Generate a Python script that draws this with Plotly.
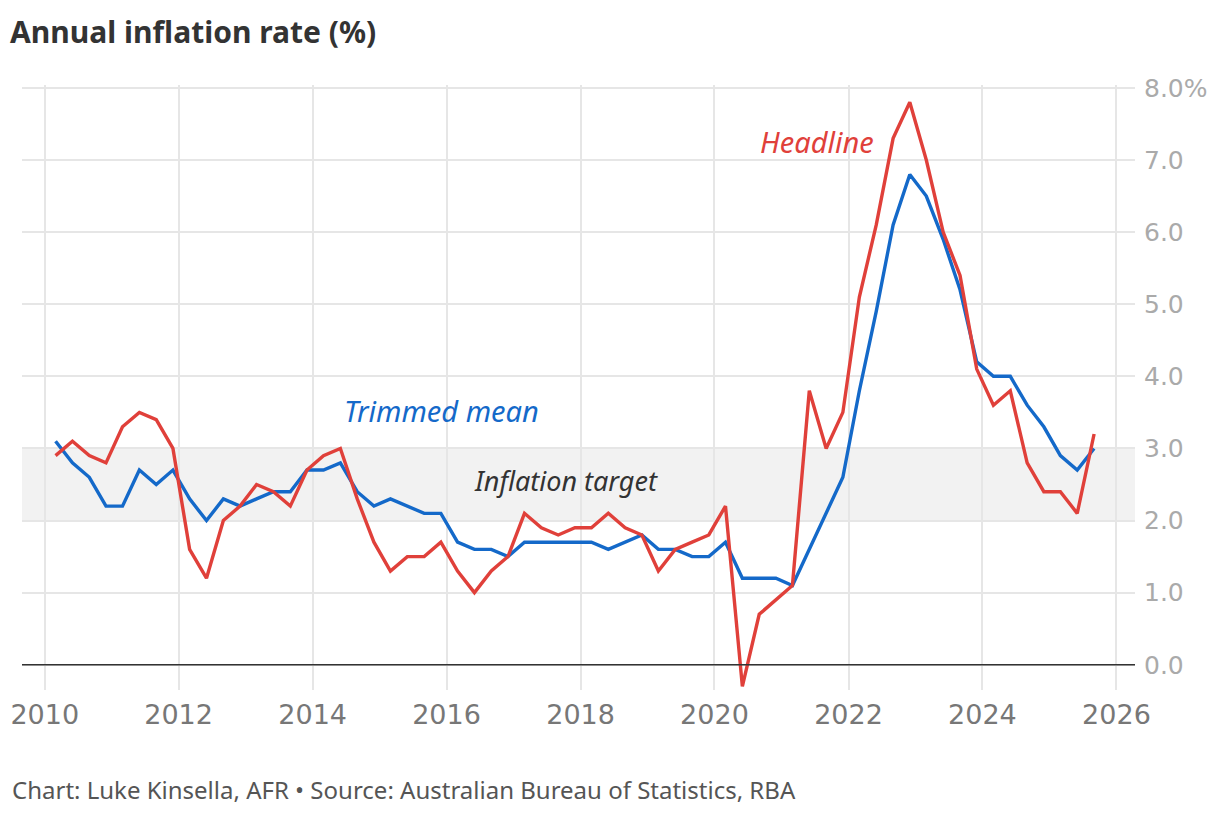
import plotly.graph_objects as go
import pandas as pd

# Quarterly observations, March 2010 to September 2025
quarters = pd.date_range("2010-03-01", "2025-09-01", freq="3MS")

headline = [
    2.9, 3.1, 2.9, 2.8,
    3.3, 3.5, 3.4, 3.0,
    1.6, 1.2, 2.0, 2.2,
    2.5, 2.4, 2.2, 2.7,
    2.9, 3.0, 2.3, 1.7,
    1.3, 1.5, 1.5, 1.7,
    1.3, 1.0, 1.3, 1.5,
    2.1, 1.9, 1.8, 1.9,
    1.9, 2.1, 1.9, 1.8,
    1.3, 1.6, 1.7, 1.8,
    2.2, -0.3, 0.7, 0.9,
    1.1, 3.8, 3.0, 3.5,
    5.1, 6.1, 7.3, 7.8,
    7.0, 6.0, 5.4, 4.1,
    3.6, 3.8, 2.8, 2.4,
    2.4, 2.1, 3.2,
]

trimmed_mean = [
    3.1, 2.8, 2.6, 2.2,
    2.2, 2.7, 2.5, 2.7,
    2.3, 2.0, 2.3, 2.2,
    2.3, 2.4, 2.4, 2.7,
    2.7, 2.8, 2.4, 2.2,
    2.3, 2.2, 2.1, 2.1,
    1.7, 1.6, 1.6, 1.5,
    1.7, 1.7, 1.7, 1.7,
    1.7, 1.6, 1.7, 1.8,
    1.6, 1.6, 1.5, 1.5,
    1.7, 1.2, 1.2, 1.2,
    1.1, 1.6, 2.1, 2.6,
    3.8, 4.9, 6.1, 6.8,
    6.5, 5.9, 5.2, 4.2,
    4.0, 4.0, 3.6, 3.3,
    2.9, 2.7, 3.0,
]

y_tickvals = [0, 1, 2, 3, 4, 5, 6, 7, 8]
y_ticktext = ["0.0", "1.0", "2.0", "3.0", "4.0", "5.0", "6.0", "7.0", "8.0%"]
x_tickvals = ["2010-01-01", "2012-01-01", "2014-01-01", "2016-01-01", "2018-01-01",
              "2020-01-01", "2022-01-01", "2024-01-01", "2026-01-01"]
x_ticktext = ["2010", "2012", "2014", "2016", "2018", "2020", "2022", "2024", "2026"]

target_low, target_high = 2, 3

RED = "#e0403a"
BLUE = "#1469c9"

# page body has an 8px default margin, so layout offsets are compensated
ML, MR, MT, MB = 14, 93, 77, 134
PLOT_H = 816 - MT - MB
PLOT_W = 1220 - ML - MR

fig = go.Figure()
fig.add_trace(go.Scatter(x=quarters, y=trimmed_mean, mode="lines", name="Trimmed mean",
                         line=dict(color=BLUE, width=3.4), hoverinfo="skip"))
fig.add_trace(go.Scatter(x=quarters, y=headline, mode="lines", name="Headline",
                         line=dict(color=RED, width=3.4), hoverinfo="skip"))

# Inflation target band
fig.add_shape(type="rect", xref="paper", yref="y", x0=0, x1=1, y0=target_low, y1=target_high,
              fillcolor="#f2f2f2", line_width=0, layer="below")
# Zero line
fig.add_shape(type="line", xref="paper", yref="y", x0=0, x1=1, y0=0, y1=0,
              line=dict(color="#333333", width=1.6), layer="above")

fig.add_annotation(x="2021-07-15", y=7.25, text="<i>Headline</i>", showarrow=False,
                   font=dict(family="Noto Sans", size=29, color=RED))
fig.add_annotation(x="2015-12-05", y=3.52, text="<i>Trimmed mean</i>", showarrow=False,
                   font=dict(family="Noto Sans", size=29, color=BLUE))
fig.add_annotation(x="2017-10-15", y=2.55, text="<i>Inflation target</i>", showarrow=False,
                   font=dict(family="Noto Sans", size=27, color="#333333"))

fig.update_layout(
    width=1220, height=816,
    margin=dict(l=ML, r=MR, t=MT, b=MB, autoexpand=False),
    paper_bgcolor="white", plot_bgcolor="white",
    showlegend=False,
    title=dict(text="<b>Annual inflation rate (%)</b>", x=2/1220, xanchor="left",
               y=1 - 24/816, yanchor="middle",
               font=dict(family="Noto Sans", size=30, color="#333333")),
    xaxis=dict(
        type="date",
        range=["2009-08-30", "2026-04-12"],
        tickvals=x_tickvals, ticktext=x_ticktext,
        showgrid=True, gridcolor="#e6e6e6", gridwidth=2,
        zeroline=False, showline=False, ticks="",
        automargin=False,
        ticklabelstandoff=6,
        tickfont=dict(family="DejaVu Sans", size=27, color="#777777"),
    ),
    yaxis=dict(
        range=[-0.35, 8.04],
        side="right",
        tickvals=y_tickvals, ticktext=y_ticktext,
        showgrid=True, gridcolor="#e6e6e6", gridwidth=2,
        zeroline=False, showline=False, ticks="",
        automargin=False,
        ticklabelstandoff=8,
        tickfont=dict(family="DejaVu Sans", size=25, color="#aaaaaa"),
    ),
)

fig.add_annotation(xref="paper", yref="paper", x=(2 - ML) / PLOT_W, xanchor="left",
                   y=-(781 - (816 - MB)) / PLOT_H, yanchor="middle",
                   text="Chart: Luke Kinsella, AFR • Source: Australian Bureau of Statistics, RBA",
                   showarrow=False, font=dict(family="Noto Sans", size=24, color="#555555"))

fig.write_html("out.html")
